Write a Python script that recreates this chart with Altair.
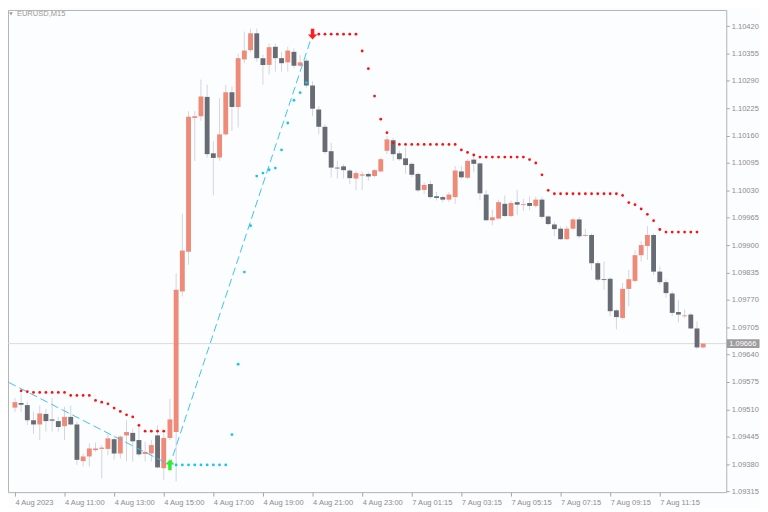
import json
import altair as alt
import pandas as pd

# ---------------- data (EURUSD, M15) ----------------
open_ = [1.09514, 1.09525, 1.09520, 1.09484, 1.09474, 1.09499, 1.09486, 1.09482, 1.09470, 1.09492,
         1.09474, 1.09387, 1.09398, 1.09413, 1.09416, 1.09416, 1.09439, 1.09405, 1.09448, 1.09454,
         1.09437, 1.09404, 1.09405, 1.09448, 1.09370, 1.09442, 1.09456, 1.09790, 1.09884, 1.10202,
         1.10206, 1.10252, 1.10118, 1.10108, 1.10163, 1.10263, 1.10228, 1.10341, 1.10363, 1.10403,
         1.10344, 1.10328, 1.10371, 1.10344, 1.10334, 1.10359, 1.10326, 1.10338, 1.10279, 1.10222,
         1.10181, 1.10123, 1.10084, 1.10087, 1.10077, 1.10058, 1.10065, 1.10069, 1.10064, 1.10075,
         1.10124, 1.10149, 1.10118, 1.10106, 1.10093, 1.10069, 1.10031, 1.10045, 1.10016, 1.10014,
         1.10008, 1.10014, 1.10075, 1.10060, 1.10103, 1.10094, 1.10020, 1.09959, 1.09963, 1.09998,
         1.09969, 1.10002, 1.09995, 1.10000, 1.09993, 1.10008, 1.09968, 1.09949, 1.09939, 1.09914,
         1.09939, 1.09961, 1.09922, 1.09924, 1.09857, 1.09819, 1.09820, 1.09745, 1.09727, 1.09796,
         1.09815, 1.09876, 1.09898, 1.09924, 1.09837, 1.09812, 1.09785, 1.09741, 1.09731, 1.09735,
         1.09702, 1.09657]
high_ = [1.09537, 1.09547, 1.09528, 1.09504, 1.09519, 1.09511, 1.09537, 1.09492, 1.09516, 1.09519,
         1.09481, 1.09405, 1.09429, 1.09431, 1.09425, 1.09452, 1.09448, 1.09448, 1.09484, 1.09464,
         1.09476, 1.09433, 1.09437, 1.09472, 1.09452, 1.09535, 1.09833, 1.09975, 1.10218, 1.10218,
         1.10293, 1.10281, 1.10147, 1.10249, 1.10281, 1.10277, 1.10355, 1.10407, 1.10414, 1.10414,
         1.10352, 1.10379, 1.10379, 1.10359, 1.10371, 1.10367, 1.10352, 1.10344, 1.10289, 1.10230,
         1.10187, 1.10143, 1.10100, 1.10093, 1.10081, 1.10077, 1.10075, 1.10073, 1.10081, 1.10108,
         1.10159, 1.10155, 1.10124, 1.10132, 1.10096, 1.10073, 1.10049, 1.10053, 1.10026, 1.10018,
         1.10026, 1.10088, 1.10088, 1.10104, 1.10112, 1.10096, 1.10031, 1.09984, 1.10008, 1.10018,
         1.10006, 1.10031, 1.10010, 1.10015, 1.10015, 1.10014, 1.09971, 1.09955, 1.09945, 1.09945,
         1.09965, 1.09967, 1.09939, 1.09928, 1.09861, 1.09861, 1.09824, 1.09748, 1.09810, 1.09841,
         1.09888, 1.09910, 1.09945, 1.09928, 1.09849, 1.09818, 1.09790, 1.09770, 1.09747, 1.09739,
         1.09719, 1.09667]
low_ = [1.09504, 1.09504, 1.09472, 1.09452, 1.09437, 1.09457, 1.09457, 1.09457, 1.09437, 1.09472,
        1.09378, 1.09374, 1.09374, 1.09409, 1.09346, 1.09401, 1.09390, 1.09393, 1.09386, 1.09386,
        1.09398, 1.09386, 1.09386, 1.09370, 1.09342, 1.09437, 1.09339, 1.09778, 1.09853, 1.10100,
        1.10195, 1.10108, 1.10018, 1.10100, 1.10160, 1.10171, 1.10179, 1.10332, 1.10358, 1.10336,
        1.10281, 1.10305, 1.10312, 1.10312, 1.10312, 1.10320, 1.10324, 1.10273, 1.10206, 1.10163,
        1.10116, 1.10061, 1.10058, 1.10058, 1.10045, 1.10030, 1.10031, 1.10053, 1.10061, 1.10073,
        1.10116, 1.10100, 1.10100, 1.10069, 1.10061, 1.10026, 1.10022, 1.10010, 1.10006, 1.10002,
        1.10002, 1.09998, 1.10057, 1.10057, 1.10073, 1.10006, 1.09957, 1.09947, 1.09961, 1.09967,
        1.09967, 1.09971, 1.09981, 1.09982, 1.09989, 1.09963, 1.09947, 1.09921, 1.09912, 1.09912,
        1.09935, 1.09916, 1.09920, 1.09841, 1.09814, 1.09794, 1.09731, 1.09700, 1.09723, 1.09755,
        1.09811, 1.09861, 1.09865, 1.09829, 1.09806, 1.09775, 1.09731, 1.09716, 1.09727, 1.09700,
        1.09653, 1.09655]
close_ = [1.09527, 1.09521, 1.09484, 1.09474, 1.09500, 1.09482, 1.09483, 1.09468, 1.09492, 1.09474,
          1.09390, 1.09398, 1.09417, 1.09417, 1.09419, 1.09441, 1.09405, 1.09445, 1.09456, 1.09434,
          1.09403, 1.09409, 1.09425, 1.09372, 1.09442, 1.09486, 1.09794, 1.09887, 1.10205, 1.10206,
          1.10253, 1.10116, 1.10107, 1.10163, 1.10263, 1.10228, 1.10344, 1.10362, 1.10403, 1.10344,
          1.10328, 1.10370, 1.10344, 1.10332, 1.10362, 1.10326, 1.10334, 1.10279, 1.10224, 1.10181,
          1.10121, 1.10084, 1.10082, 1.10078, 1.10059, 1.10071, 1.10068, 1.10063, 1.10078, 1.10104,
          1.10151, 1.10116, 1.10104, 1.10090, 1.10067, 1.10030, 1.10043, 1.10014, 1.10012, 1.10008,
          1.10020, 1.10077, 1.10061, 1.10100, 1.10093, 1.10023, 1.09959, 1.09966, 1.10002, 1.09969,
          1.10000, 1.09996, 1.09997, 1.09993, 1.10008, 1.09967, 1.09950, 1.09938, 1.09914, 1.09939,
          1.09961, 1.09921, 1.09924, 1.09857, 1.09818, 1.09817, 1.09743, 1.09729, 1.09796, 1.09819,
          1.09876, 1.09900, 1.09924, 1.09837, 1.09812, 1.09786, 1.09739, 1.09735, 1.09733, 1.09702,
          1.09657, 1.09666]

# indicator dots above price (red) and below price (blue), one slot per candle
sar_upper = [None, 1.09554, 1.09552, 1.09550, 1.09550, 1.09550, 1.09550, 1.09550, 1.09550, 1.09543,
             1.09543, 1.09543, 1.09543, 1.09531, 1.09527, 1.09523, 1.09513, 1.09505, 1.09497, 1.09492,
             1.09472, 1.09458, 1.09458, 1.09458, 1.09458, None, None, None, None, None,
             None, None, None, None, None, None, None, None, None, None,
             None, None, None, None, None, None, None, None, None, 1.10401,
             1.10401, 1.10401, 1.10401, 1.10401, 1.10401, 1.10401, 1.10361, 1.10319, 1.10254, 1.10199,
             1.10167, 1.10143, 1.10139, 1.10139, 1.10139, 1.10139, 1.10139, 1.10139, 1.10139, 1.10139,
             1.10139, 1.10139, 1.10126, 1.10120, 1.10114, 1.10109, 1.10109, 1.10109, 1.10109, 1.10109,
             1.10109, 1.10109, 1.10109, 1.10103, 1.10095, 1.10067, 1.10030, 1.10022, 1.10022, 1.10022,
             1.10022, 1.10022, 1.10022, 1.10022, 1.10022, 1.10022, 1.10022, 1.10022, 1.10018, 1.10001,
             1.09996, 1.09986, 1.09973, 1.09958, 1.09937, 1.09931, 1.09931, 1.09931, 1.09931, 1.09931,
             1.09931, None]
sar_lower = [None, None, None, None, None, None, None, None, None, None,
             None, None, None, None, None, None, None, None, None, None,
             None, None, None, None, None, 1.09378, 1.09378, 1.09378, 1.09378, 1.09378,
             1.09378, 1.09378, 1.09378, 1.09378, 1.09378, 1.09450, 1.09617, 1.09836, 1.09946, 1.10064,
             1.10071, 1.10079, 1.10083, 1.10126, 1.10190, 1.10244, 1.10262, 1.10286, None, None,
             None, None, None, None, None, None, None, None, None, None,
             None, None, None, None, None, None, None, None, None, None,
             None, None, None, None, None, None, None, None, None, None,
             None, None, None, None, None, None, None, None, None, None,
             None, None, None, None, None, None, None, None, None, None,
             None, None, None, None, None, None, None, None, None, None,
             None, None]

zigzag_index = [-1, 25, 48]
zigzag_price = [1.09574, 1.09378, 1.10401]
signal_index = [25, 48]
signal_price = [1.09378, 1.10401]
signal_kind = ["buy", "sell"]
current_price = 1.09666
symbol_title = "EURUSD,M15"

x_tick_index = [0, 8, 16, 24, 32, 40, 48, 56, 64, 72, 80, 88, 96, 104]
x_tick_labels = ["4 Aug 2023", "4 Aug 11:00", "4 Aug 13:00", "4 Aug 15:00", "4 Aug 17:00",
                 "4 Aug 19:00", "4 Aug 21:00", "4 Aug 23:00", "7 Aug 01:15", "7 Aug 03:15",
                 "7 Aug 05:15", "7 Aug 07:15", "7 Aug 09:15", "7 Aug 11:15"]
y_tick_values = [1.09315, 1.09380, 1.09445, 1.09510, 1.09575, 1.09640, 1.09705, 1.09770, 1.09835,
                 1.09900, 1.09965, 1.10030, 1.10095, 1.10160, 1.10225, 1.10290, 1.10355, 1.10420]

# ---------------- tables ----------------
n = len(open_)
candles = pd.DataFrame({"i": list(range(n)), "open": open_, "high": high_,
                        "low": low_, "close": close_})
candles["dir"] = ["bull" if c >= o else "bear" for o, c in zip(open_, close_)]

up_dots = pd.DataFrame({"i": [k for k, v in enumerate(sar_upper) if v is not None],
                        "p": [v for v in sar_upper if v is not None]})
low_dots = pd.DataFrame({"i": [k for k, v in enumerate(sar_lower) if v is not None],
                         "p": [v for v in sar_lower if v is not None]})
zigzag = pd.DataFrame({"i": zigzag_index, "p": zigzag_price})
signals = pd.DataFrame({"i": signal_index, "p": signal_price, "kind": signal_kind})
price_df = pd.DataFrame({"p": [current_price], "t": ["%.5f" % current_price]})
title_df = pd.DataFrame({"t": [symbol_title]})

# ---------------- styling ----------------
W, H = 724, 486
FONT = "Liberation Sans"
TXT = "#8c8c8c"
SALMON = "#ef8978"
DARK = "#676c74"
WICK = "#d3d6df"

xs = alt.Scale(domain=[-0.3156, 113.92], nice=False, zero=False)
ys = alt.Scale(domain=[1.093133, 1.104584], nice=False, zero=False)

label_expr = "%s[indexof(%s, datum.value)]" % (json.dumps(x_tick_labels), json.dumps(x_tick_index))
xaxis = alt.Axis(values=x_tick_index, labelExpr=label_expr, labelAlign="left", labelFlush=False,
                 labelOverlap=False, labelBound=False, tickSize=4, tickColor="#a5a5a5",
                 labelColor=TXT, labelFontSize=7.6, labelFont=FONT, labelPadding=2.5,
                 domain=False, grid=False, title=None)
yaxis = alt.Axis(orient="right", values=y_tick_values, format=".5f", tickSize=3,
                 tickColor="#a5a5a5", labelColor=TXT, labelFontSize=7.6, labelFont=FONT,
                 labelPadding=2, labelFlush=False, labelOverlap=False, labelBound=False,
                 domain=False, grid=False, title=None)


def X(field="i:Q"):
    return alt.X(field, scale=xs, axis=xaxis)


def Y(field):
    return alt.Y(field, scale=ys, axis=yaxis)


price_line = alt.Chart(price_df).mark_rule(color="#dadada", strokeWidth=1).encode(y=Y("p:Q"))

wicks = alt.Chart(candles).mark_rule(color=WICK, strokeWidth=1).encode(
    x=X(), y=Y("low:Q"), y2="high:Q")

bodies = alt.Chart(candles).mark_bar(size=4.9).encode(
    x=X(), y=Y("open:Q"), y2="close:Q",
    color=alt.Color("dir:N", scale=alt.Scale(domain=["bull", "bear"], range=[SALMON, DARK]),
                    legend=None))

zz = alt.Chart(zigzag).mark_line(color="#3ec2f0", strokeWidth=1, strokeDash=[8, 4],
                                 clip=True).encode(x=X(), y=Y("p:Q"))

red_dots = alt.Chart(up_dots).mark_point(filled=True, size=8, opacity=1, color="#ff1010",
                                         shape="circle").encode(x=X(), y=Y("p:Q"))
blue_dots = alt.Chart(low_dots).mark_point(filled=True, size=8, opacity=1, color="#18c2fa",
                                           shape="circle").encode(x=X(), y=Y("p:Q"))

UP = "M0,-1L0.85,-0.05L0.32,-0.05L0.32,1L-0.32,1L-0.32,-0.05L-0.85,-0.05Z"
DOWN = "M0,1L0.85,0.05L0.32,0.05L0.32,-1L-0.32,-1L-0.32,0.05L-0.85,0.05Z"
arrows = alt.Chart(signals).mark_point(filled=True, opacity=1, size=120, strokeWidth=0).encode(
    x=X(), y=Y("p:Q"),
    shape=alt.Shape("kind:N", scale=alt.Scale(domain=["buy", "sell"], range=[UP, DOWN]), legend=None),
    color=alt.Color("kind:N", scale=alt.Scale(domain=["buy", "sell"], range=["#2fee2f", "#ff1e1e"]),
                    legend=None))

BOX = "M-1,-0.27L1,-0.27L1,0.27L-1,0.27Z"
price_box = alt.Chart(price_df).mark_point(shape=BOX, filled=True, opacity=1, size=1089,
                                           color="#9c9c9c").encode(
    x=alt.value(W + 17), y=Y("p:Q"))
price_text = alt.Chart(price_df).mark_text(align="left", baseline="middle", color="white",
                                           fontSize=7.6, font=FONT).encode(
    x=alt.value(W + 3), y=Y("p:Q"), text="t:N")

tri = alt.Chart(title_df).mark_point(shape="triangle-down", filled=True, opacity=1, size=14,
                                     color="#9a9a9a").encode(x=alt.value(3), y=alt.value(4))
title_txt = alt.Chart(title_df).mark_text(align="left", baseline="middle", color="#9a9a9a",
                                          fontSize=7.6, font=FONT).encode(
    x=alt.value(9), y=alt.value(4.5), text="t:N")

chart = alt.layer(price_line, wicks, bodies, zz, red_dots, blue_dots, arrows,
                  price_box, price_text, tri, title_txt).resolve_scale(
    color="independent", shape="independent"
).properties(
    width=W, height=H,
    padding={"left": 0, "top": 0, "right": 34, "bottom": 14},
    autosize=alt.AutoSizeParams(type="none"),
    background="#fcfdfe",
).configure_view(stroke="#b3b3b3", strokeWidth=1)

chart.save("out.html", embed_options={"renderer": "svg", "actions": False})
